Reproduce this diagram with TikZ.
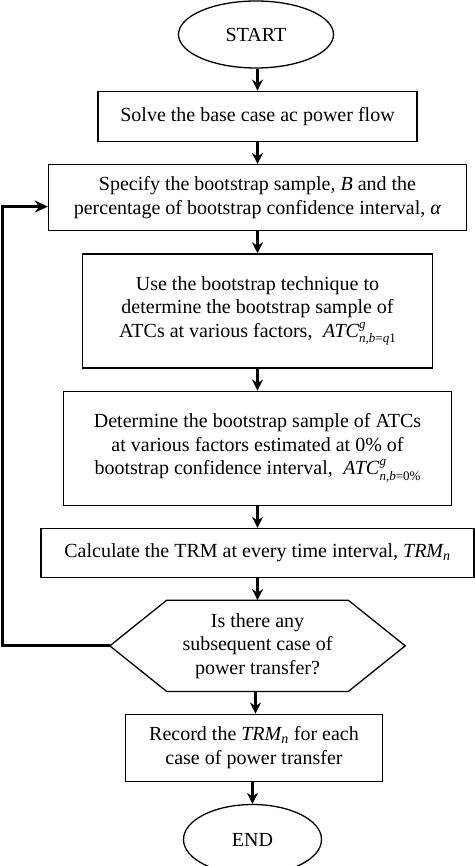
\documentclass[tikz,border=0pt]{standalone}
\usepackage{fontspec}
\setmainfont{Liberation Serif}
\usepackage{tikz}
\usetikzlibrary{positioning, arrows.meta, shapes.geometric, calc}

% ATC with stacked g and subscript
\newcommand{\atcvar}[1]{\textit{ATC}\rlap{\raisebox{9pt}{\fontsize{13}{13}\selectfont\textit{g}}}%
  \raisebox{-5.5pt}{\fontsize{13}{13}\selectfont #1}}

\begin{document}
\begin{tikzpicture}[
    x=1pt, y=1pt,
    node distance=22pt,
    font=\fontsize{20}{23.5}\selectfont,
    box/.style={draw, line width=1.3pt, align=center, inner sep=2pt},
    termnode/.style={draw, ellipse, line width=1.3pt, inner sep=0pt},
    hexbox/.style={align=center, minimum width=295pt, minimum height=91pt, inner sep=0pt},
    arrow/.style={-{Stealth[length=11pt, width=11pt]}, line width=2.2pt},
    looparrow/.style={-{Stealth[length=13pt, width=12pt]}, line width=3.2pt},
]
\useasboundingbox (0,0) rectangle (474,-866);

% --- Start and first steps ---
\node[termnode, minimum width=155pt, minimum height=67pt] (start) at (256,-34.5) {START};
\node[box, below=22pt of start, xshift=1.5pt, minimum width=319pt, minimum height=50pt] (solve) {Solve the base case ac power flow};
\node[box, below=of solve, minimum width=418pt, minimum height=66pt] (spec)
  {Specify the bootstrap sample, \textit{B} and the\\ percentage of bootstrap confidence interval, \textit{α}};

% --- Bootstrap steps ---
\node[box, below=of spec, minimum width=350pt, minimum height=114pt] (boot)
  {Use the bootstrap technique to\\ determine the bootstrap sample of\\ ATCs at various factors, \;\atcvar{\textit{n,b}=\textit{q}1}};
\node[box, below=of boot, minimum width=388pt, minimum height=114pt] (det)
  {Determine the bootstrap sample of ATCs\\ at various factors estimated at 0\% of\\ bootstrap confidence interval, \;\atcvar{\textit{n,b}=0\%}};
\node[box, below=of det, minimum width=433pt, minimum height=49pt] (calc)
  {Calculate the TRM at every time interval, \textit{TRM\textsubscript{n}}};

% --- Decision ---
\node[hexbox, below=of calc] (ask) {Is there any\\ subsequent case of\\ power transfer?};
\draw[line width=1.3pt] (ask.west) -- ([xshift=57pt]ask.north west) -- ([xshift=-57pt]ask.north east)
  -- (ask.east) -- ([xshift=-57pt]ask.south east) -- ([xshift=57pt]ask.south west) -- cycle;

% --- Record and end ---
\node[box, below=of ask, xshift=-3.5pt, minimum width=257pt, minimum height=67pt] (rec)
  {Record the \textit{TRM\textsubscript{n}} for each\\ case of power transfer};
\node[termnode, below=of rec, xshift=-1.5pt, minimum width=138pt, minimum height=70pt] (stop) {END};

% --- Arrows ---
\draw[arrow] (start.south -| solve.north) -- (solve.north);
\draw[arrow] (solve) -- (spec);
\draw[arrow] (spec) -- (boot);
\draw[arrow] (boot) -- (det);
\draw[arrow] (det) -- (calc);
\draw[arrow] (calc) -- (ask);
\draw[arrow] ([xshift=-2pt]ask.south) -- ([xshift=1.5pt]rec.north);
\draw[arrow] (rec.south -| stop.north) -- (stop.north);

% --- Loop back ---
\draw[looparrow] (ask.west) -- ++(-107pt,0) |- ([yshift=-9pt]spec.west);

\end{tikzpicture}
\end{document}
